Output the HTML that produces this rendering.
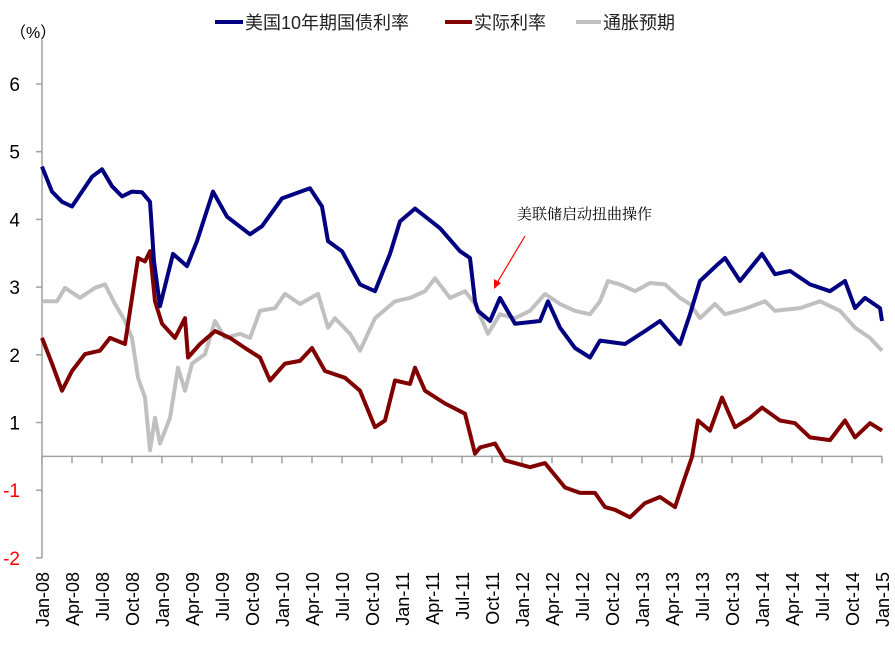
<!DOCTYPE html>
<html><head><meta charset="utf-8">
<style>
html,body{margin:0;padding:0;background:#fff;}
svg{display:block;font-family:"Liberation Sans","Noto Sans CJK SC",sans-serif;}
</style></head>
<body>
<svg id="chart" width="895" height="655" viewBox="0 0 895 655">
  <g id="legend">
    <g>
      <line x1="215" y1="22" x2="243" y2="22" stroke="#000080" stroke-width="4"/>
      <text x="245" y="29" font-size="18" fill="#222">美国10年期国债利率</text>
    </g>
    <g>
      <line x1="445" y1="22" x2="472" y2="22" stroke="#800000" stroke-width="4"/>
      <text x="474" y="29" font-size="18" fill="#222">实际利率</text>
    </g>
    <g>
      <line x1="576" y1="22" x2="601" y2="22" stroke="#c0c0c0" stroke-width="4"/>
      <text x="603" y="29" font-size="18" fill="#222">通胀预期</text>
    </g>
  </g>
  <text x="10" y="38" font-size="16" fill="#000">（%）</text>
  <g id="yaxis"></g>
  <g id="xaxis"></g>
  <g id="series"></g>
  <g>
    <text x="517" y="219" font-size="15" font-family="'Noto Serif CJK SC','Liberation Serif',serif" fill="#000">美联储启动扭曲操作</text>
    <line x1="525" y1="236" x2="497" y2="283" stroke="#ff0000" stroke-width="1.2"/>
    <polygon points="494,289 494,279 501,283" fill="#ff0000"/>
  </g>
</svg>
<script>
// values on display scale; x = months since Jan-08
const tickValues=[6,5,4,3,2,1,0,-1];
const tickLabels=["6","5","4","3","2","1","-1","-2"];
const xLabels=["Jan-08","Apr-08","Jul-08","Oct-08","Jan-09","Apr-09","Jul-09","Oct-09","Jan-10","Apr-10","Jul-10","Oct-10","Jan-11","Apr-11","Jul-11","Oct-11","Jan-12","Apr-12","Jul-12","Oct-12","Jan-13","Apr-13","Jul-13","Oct-13","Jan-14","Apr-14","Jul-14","Oct-14","Jan-15"];
const baseline=0.5;
const t10Months=[0,1,2,3,4,5,6,7,8,9,10,10.8,11.2,11.8,13.1,14.5,15.5,17.1,18.5,20.8,22,24,26.8,28,28.6,30,31.8,33.3,34.8,35.8,37.3,39.8,41.8,42.8,43.3,43.6,44.8,45.8,47.3,49.8,50.6,51.8,53.3,54.8,55.8,58.3,60.3,61.8,63.8,64.8,65.8,67.6,68.3,69.8,72,73.3,74.8,76.8,78.8,80.3,81.3,82.3,83.8,84];
const t10Values=[4.78,4.41,4.26,4.19,4.41,4.63,4.74,4.49,4.34,4.41,4.40,4.26,3.38,2.72,3.49,3.31,3.68,4.41,4.04,3.78,3.90,4.31,4.46,4.19,3.68,3.53,3.04,2.94,3.49,3.97,4.16,3.87,3.53,3.43,2.79,2.65,2.50,2.84,2.46,2.50,2.79,2.40,2.10,1.96,2.21,2.16,2.35,2.50,2.16,2.60,3.09,3.34,3.43,3.09,3.49,3.19,3.24,3.04,2.94,3.09,2.69,2.84,2.69,2.50];
const realMonths=[0,1,2,3,4.3,5.8,6.8,8.3,9.1,9.6,10.3,10.8,11.3,12,13.3,14.3,14.6,15.8,17.3,18.8,20.3,21.8,22.8,24.3,25.8,27,28.3,30.3,31.8,33.3,34.3,35.3,36.8,37.3,38.3,40.3,42.3,43.3,43.8,45.3,46.3,48.8,50.3,52.3,53.8,55.3,56.3,57.3,58.8,60.3,61.8,63.3,64.3,65,65.6,66.8,68,69.3,70.8,72,73.8,75.3,76.8,78.8,80.3,81.3,82.8,84];
const realValues=[2.25,1.87,1.47,1.76,2.01,2.06,2.25,2.16,2.94,3.43,3.38,3.53,2.79,2.46,2.25,2.54,1.96,2.16,2.35,2.25,2.10,1.96,1.62,1.87,1.91,2.10,1.76,1.66,1.47,0.93,1.03,1.62,1.57,1.81,1.47,1.28,1.13,0.54,0.63,0.69,0.44,0.34,0.40,0.04,-0.04,-0.04,-0.25,-0.29,-0.40,-0.19,-0.10,-0.25,0.19,0.49,1.03,0.88,1.37,0.93,1.07,1.22,1.03,0.99,0.78,0.74,1.03,0.78,0.99,0.88];
const infMonths=[0,1.5,2.3,3.8,5.3,6.3,7.3,8.3,9,9.6,10.3,10.8,11.3,11.8,12.8,13.6,14.3,15,16.3,17.3,18.3,19.8,20.8,21.8,23.3,24.3,25.8,27.6,28.6,29.3,30.8,31.8,33.3,35.3,36.8,38.3,39.3,40.8,42.3,43.3,44.6,45.8,47.3,48.8,50.3,51.8,53.3,54.8,55.8,56.6,57.8,59.3,60.8,62.3,63.8,64.8,65.8,67.3,68.3,70.3,72.3,73.3,75.8,77.8,79.8,81.3,82.8,84];
const infValues=[2.79,2.79,2.99,2.84,2.99,3.04,2.75,2.50,2.25,1.66,1.37,0.59,1.07,0.69,1.07,1.81,1.47,1.87,2.01,2.50,2.25,2.31,2.25,2.65,2.69,2.90,2.75,2.90,2.40,2.54,2.31,2.06,2.54,2.79,2.84,2.94,3.13,2.84,2.94,2.75,2.31,2.60,2.54,2.65,2.90,2.75,2.65,2.60,2.79,3.09,3.04,2.94,3.06,3.04,2.84,2.75,2.54,2.75,2.60,2.68,2.79,2.65,2.69,2.79,2.65,2.40,2.25,2.06];

const NS="http://www.w3.org/2000/svg";
const X0=42,X1=882,Y6=84,STEP=67.7;
function xs(m){return X0+(X1-X0)*m/84;}
function ys(v){return Y6+(6-v)*STEP;}
function mk(tag,attrs,parent){const e=document.createElementNS(NS,tag);for(const k in attrs)e.setAttribute(k,attrs[k]);parent.appendChild(e);return e;}

const ya=document.getElementById('yaxis');
const ax=mk('line',{x1:X0,y1:40,x2:X0,y2:ys(-1),stroke:'#a0a0a0','stroke-width':1.5},ya);


tickValues.forEach((v,i)=>{
  const t=mk('line',{x1:X0-6,y1:ys(v),x2:X0,y2:ys(v),stroke:'#a0a0a0','stroke-width':1.5},ya);
  
  
  const lab=mk('text',{x:X0-22,y:ys(v)+7,'font-size':19,'text-anchor':'end',fill:tickLabels[i].startsWith('-')?'#ff0000':'#000'},ya);
  lab.textContent=tickLabels[i];
  
  
});

const xa=document.getElementById('xaxis');
const base=mk('line',{x1:X0,y1:ys(baseline),x2:X1,y2:ys(baseline),stroke:'#a0a0a0','stroke-width':1.5},xa);


xLabels.forEach((l,i)=>{
  const x=xs(i*3);
  const t=mk('line',{x1:x,y1:ys(baseline),x2:x,y2:ys(baseline)+7,stroke:'#a0a0a0','stroke-width':1.5},xa);
  
  
  const lab=mk('text',{x:0,y:0,'font-size':18,'text-anchor':'end',transform:`translate(${x+7},572) rotate(-90)`,fill:'#000'},xa);
  lab.textContent=l;
  
  
});

const sg=document.getElementById('series');
function line(ms,vs,color,name){
  const d=ms.map((m,i)=>(i?'L':'M')+xs(m).toFixed(1)+','+ys(vs[i]).toFixed(1)).join('');
  const p=mk('path',{d:d,fill:'none',stroke:color,'stroke-width':4,'stroke-linejoin':'round'},sg);
  
  
}
line(infMonths,infValues,'#c0c0c0','inflation-expectation-line');
line(realMonths,realValues,'#800000','real-rate-line');
line(t10Months,t10Values,'#000080','treasury-10y-line');
</script>
</body></html>
